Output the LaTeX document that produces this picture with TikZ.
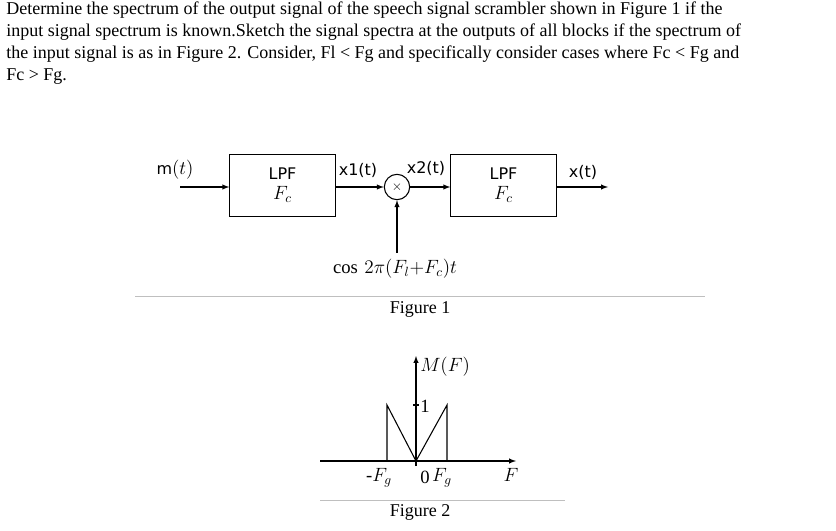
\documentclass[tikz,border=0pt]{standalone}
\usepackage{fontspec}
\setmainfont{Liberation Serif}
\newfontfamily\dsans{DejaVu Sans}
\begin{document}
\begin{tikzpicture}[x=0.75pt,y=-0.75pt,
  blk/.style={draw,line width=0.8pt,minimum width=79pt,minimum height=46pt,inner sep=0pt},
  ar/.style={-latex,line width=0.8pt},
  sig/.style={font=\dsans\fontsize{12}{14}\selectfont,inner sep=1pt},
  para/.style={anchor=north west,align=left,inner sep=0pt,font=\fontsize{13.5}{16.5}\selectfont},
  rule/.style={draw=black!25,line width=0.6pt},
  mlab/.style={font=\fontsize{14}{16}\selectfont},
  figcap/.style={font=\fontsize{13.5}{15}\selectfont}]
\useasboundingbox (0,0) rectangle (836,531);
\node[para] (txt) at (6,2) {Determine the spectrum of the output signal of the speech signal scrambler shown in Figure 1 if the\\ input signal spectrum is known.Sketch the signal spectra at the outputs of all blocks if the spectrum of\\ the input signal is as in Figure 2. Consider, Fl {\textless} Fg and specifically consider cases where Fc {\textless} Fg and\\ Fc {\textgreater} Fg.};
% Figure 1
\coordinate (in) at (180,187);
\node[blk,align=center] (f1) at (282.5,185.5) {\dsans\fontsize{12}{14}\selectfont LPF\\[3pt]\fontsize{14}{14}\selectfont$F_c$};
\node[draw,circle,minimum size=19pt,inner sep=0pt,line width=0.8pt] (mx) at (397,187) {\fontsize{10}{10}\selectfont$\times$};
\node[blk,align=center] (f2) at (503.5,185.5) {\dsans\fontsize{12}{14}\selectfont LPF\\[3pt]\fontsize{14}{14}\selectfont$F_c$};
\coordinate (out) at (608,187);
\coordinate (cs) at (397,253);
\draw[ar] (in) -- (f1.west|-in);
\draw[ar] (f1.east|-in) -- (mx.west);
\draw[ar] (mx.east) -- (f2.west|-in);
\draw[ar] (f2.east|-in) -- (out);
\draw[ar] (cs) -- (mx.south);
\node[sig] (lm) at (175,170) {m\fontsize{14}{14}\selectfont$(t)$};
\node[sig] (l1) at (358,170) {x1(t)};
\node[sig] (l2) at (426,168) {x2(t)};
\node[sig] (lx) at (583,172) {x(t)};
\node[mlab] (lc) at (395,269) {$\cos\,2\pi(F_l{+}F_c)t$};
\draw[rule] (135,296) -- (705,296);
\node[figcap] (c1) at (420,309) {Figure 1};
% Figure 2
\coordinate (ha) at (320,461);
\coordinate (hb) at (516,461);
\coordinate (va) at (416,466);
\coordinate (vb) at (416,356);
\draw[ar] (ha) -- (hb);
\draw[ar] (va) -- (vb);
\draw[line width=0.8pt] (387,461) -- (387,405) -- (416,461) -- (447,405) -- (447,461);
\draw[line width=0.8pt] (413,405) -- (419,405);
\node[mlab,anchor=west,inner sep=0pt] (mf) at (420,367) {$M(F)$};
\node[mlab,anchor=west,inner sep=0pt] (one) at (420,406) {1};
\node[mlab] (mfg) at (379,478) {-$F_g$};
\node[mlab] (zr) at (425,477) {0};
\node[mlab] (fg) at (442,478) {$F_g$};
\node[mlab] (ff) at (511,475) {$F$};
\draw[rule] (320,500) -- (565,500);
\node[figcap] (c2) at (420,512) {Figure 2};
\end{tikzpicture}
\end{document}
